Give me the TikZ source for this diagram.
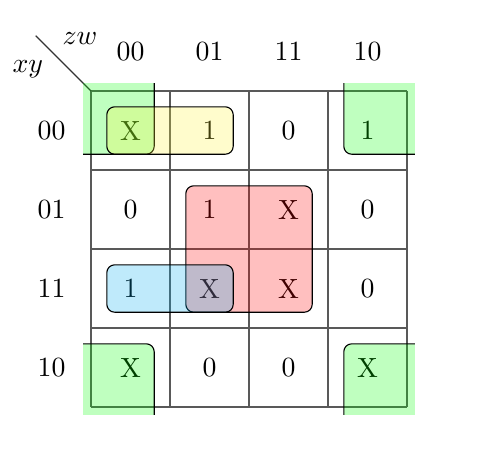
\documentclass[tikz,border=0pt]{standalone}
\usepackage{amsmath}
\usepackage{tikz}
\usetikzlibrary{positioning}
\tikzset{
  implicant/.style={draw,rounded corners=0.1cm,fill opacity=0.25},
  cornerfill/.style={fill=green,opacity=0.25},
}
\begin{document}
\begin{tikzpicture}
      \useasboundingbox (-1.152,1.152) rectangle (4.924,-4.861);
      \draw [black!65] (0,0) grid (4,-4);
      \draw [black!80] (-0.7,0.7) -- (0,0);
      \node (zw) at (-0.14,0.66) {$zw$};
      \node (xy) at (-0.8,0.28) {$xy$};
      % column labels
      \node (zw00) at (0.5,0.5) {00};
      \node (zw01) at (1.5,0.5) {01};
      \node (zw11) at (2.5,0.5) {11};
      \node (zw10) at (3.5,0.5) {10};
      % row labels
      \node (xy00) at (-0.5,-0.5) {00};
      \node (xy01) at (-0.5,-1.5) {01};
      \node (xy11) at (-0.5,-2.5) {11};
      \node (xy10) at (-0.5,-3.5) {10};
      % cells
      \node (m0000) at (0.5,-0.5) {X};
      \node (m0001) at (1.5,-0.5) {1};
      \node (m0011) at (2.5,-0.5) {0};
      \node (m0010) at (3.5,-0.5) {1};
      \node (m0100) at (0.5,-1.5) {0};
      \node (m0101) at (1.5,-1.5) {1};
      \node (m0111) at (2.5,-1.5) {X};
      \node (m0110) at (3.5,-1.5) {0};
      \node (m1100) at (0.5,-2.5) {1};
      \node (m1101) at (1.5,-2.5) {X};
      \node (m1111) at (2.5,-2.5) {X};
      \node (m1110) at (3.5,-2.5) {0};
      \node (m1000) at (0.5,-3.5) {X};
      \node (m1001) at (1.5,-3.5) {0};
      \node (m1011) at (2.5,-3.5) {0};
      \node (m1010) at (3.5,-3.5) {X};
      % corner group
      \fill [cornerfill] (-0.1,0.1) -- (0.8,0.1) -- (0.8,-0.7) arc (0:-90:0.1) -- (-0.1,-0.8) -- cycle;
      \draw (0.8,0.1) -- (0.8,-0.7) arc (0:-90:0.1) -- (-0.1,-0.8);
      \fill [cornerfill] (4.1,0.1) -- (3.2,0.1) -- (3.2,-0.7) arc (180:270:0.1) -- (4.1,-0.8) -- cycle;
      \draw (3.2,0.1) -- (3.2,-0.7) arc (180:270:0.1) -- (4.1,-0.8);
      \fill [cornerfill] (-0.1,-4.1) -- (0.8,-4.1) -- (0.8,-3.3) arc (0:90:0.1) -- (-0.1,-3.2) -- cycle;
      \draw (0.8,-4.1) -- (0.8,-3.3) arc (0:90:0.1) -- (-0.1,-3.2);
      \fill [cornerfill] (4.1,-4.1) -- (3.2,-4.1) -- (3.2,-3.3) arc (180:90:0.1) -- (4.1,-3.2) -- cycle;
      \draw (3.2,-4.1) -- (3.2,-3.3) arc (180:90:0.1) -- (4.1,-3.2);
      % other groups
      \draw [implicant,fill=yellow!80] (0.2,-0.2) rectangle (1.8,-0.8);
      \draw [implicant,fill=red] (1.2,-1.2) rectangle (2.8,-2.8);
      \draw [implicant,fill=cyan] (0.2,-2.2) rectangle (1.8,-2.8);
    \end{tikzpicture}
\end{document}
